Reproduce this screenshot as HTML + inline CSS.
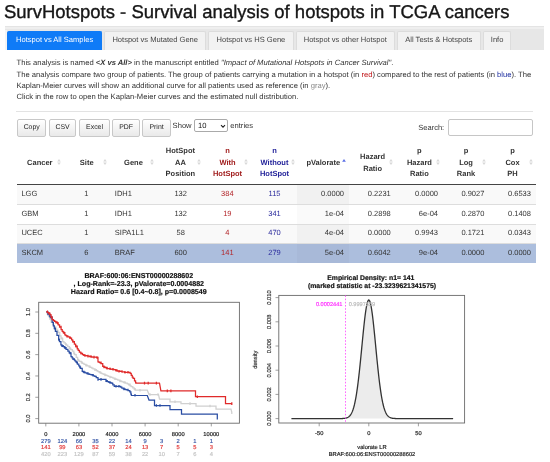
<!DOCTYPE html>
<html><head><meta charset="utf-8"><title>SurvHotspots</title><style>
*{margin:0;padding:0;box-sizing:border-box}
html,body{width:550px;height:462px;overflow:hidden;background:#fff}
body{font-family:"Liberation Sans",sans-serif;color:#333;position:relative;text-rendering:geometricPrecision}
.wrap{position:absolute;left:0;top:0;width:550px;height:462px;will-change:transform}
.t{position:absolute;white-space:nowrap;line-height:1}
.b{font-weight:bold}
.tabbar{position:absolute;left:5px;top:26px;width:539px;height:23.6px;background:linear-gradient(#e4e4e4 0,#e4e4e4 1px,#efefef 1px,#efefef 2.8px,#e7e7e7 2.8px)}
.tab{position:absolute;top:31.2px;height:18.4px;background:#f2f2f2;border:1px solid #dcdcdc;border-bottom:none;border-radius:2px 2px 0 0}
.tab.act{background:#0f7bf7;border-color:#0f7bf7}
.btn{position:absolute;top:119px;height:18px;border:1px solid #c8c8c8;border-radius:2px;background:linear-gradient(#fff,#e9e9e9)}
.row{position:absolute;left:16.5px;width:519.5px;height:19.6px;border-top:1px solid #ddd}
.sc{position:absolute;left:280.5px;width:52px;top:0;bottom:0}
</style></head>
<body><div class="wrap">
<div class="t " style="left:3.90px;top:3.34px;font-size:18.5px;color:#161616;-webkit-text-stroke:0.35px #161616">SurvHotspots - Survival analysis of hotspots in TCGA cancers</div>
<div class="tabbar"></div>
<div style="position:absolute;left:5px;top:29.5px;width:2.2px;height:20.1px;background:#f4f4f4"></div>
<div class="tab act" style="left:7.2px;width:94.8px"></div>
<div class="t " style="left:54.60px;transform:translateX(-50%);top:35.81px;font-size:7.55px;color:#fff;-webkit-text-stroke:0">Hotspot vs All Samples</div>
<div class="tab" style="left:104px;width:102.4px"></div>
<div class="t " style="left:155.20px;transform:translateX(-50%);top:35.81px;font-size:7.55px;color:#444">Hotspot vs Mutated Gene</div>
<div class="tab" style="left:208.2px;width:85.4px"></div>
<div class="t " style="left:250.90px;transform:translateX(-50%);top:35.81px;font-size:7.55px;color:#444">Hotspot vs HS Gene</div>
<div class="tab" style="left:295.5px;width:99.5px"></div>
<div class="t " style="left:345.25px;transform:translateX(-50%);top:35.81px;font-size:7.55px;color:#444">Hotspot vs other Hotspot</div>
<div class="tab" style="left:397px;width:83.5px"></div>
<div class="t " style="left:438.75px;transform:translateX(-50%);top:35.81px;font-size:7.55px;color:#444">All Tests &amp; Hotspots</div>
<div class="tab" style="left:482.7px;width:28.8px"></div>
<div class="t " style="left:497.10px;transform:translateX(-50%);top:35.81px;font-size:7.55px;color:#444">Info</div>
<div class="t " style="left:16.50px;top:59.34px;font-size:7.63px;">This analysis is named <b><i>&lt;X vs All&gt;</i></b> in the manuscript entitled <i>"Impact of Mutational Hotspots in Cancer Survival"</i>.</div>
<div class="t " style="left:16.50px;top:70.84px;font-size:7.63px;">The analysis compare two group of patients. The group of patients carrying a mutation in a hotspot (in <span style="color:#c0171b">red</span>) compared to the rest of patients (in <span style="color:#1d2ea0">blue</span>). The</div>
<div class="t " style="left:16.50px;top:82.04px;font-size:7.63px;">Kaplan-Meier curves will show an additional curve for all patients used as reference (in <span style="color:#888">gray</span>).</div>
<div class="t " style="left:16.50px;top:93.24px;font-size:7.63px;">Click in the row to open the Kaplan-Meier curves and the estimated null distribution.</div>
<div style="position:absolute;left:16.4px;top:110.8px;width:516.3px;height:1px;background:#e3e3e3"></div>
<div class="btn" style="left:17px;width:29.4px"></div>
<div class="t " style="left:31.70px;transform:translateX(-50%);top:124.76px;font-size:6.9px;color:#222">Copy</div>
<div class="btn" style="left:48.7px;width:27.7px"></div>
<div class="t " style="left:62.55px;transform:translateX(-50%);top:124.76px;font-size:6.9px;color:#222">CSV</div>
<div class="btn" style="left:79.1px;width:30.9px"></div>
<div class="t " style="left:94.55px;transform:translateX(-50%);top:124.76px;font-size:6.9px;color:#222">Excel</div>
<div class="btn" style="left:112.2px;width:27.8px"></div>
<div class="t " style="left:126.10px;transform:translateX(-50%);top:124.76px;font-size:6.9px;color:#222">PDF</div>
<div class="btn" style="left:142.4px;width:28.3px"></div>
<div class="t " style="left:156.55px;transform:translateX(-50%);top:124.76px;font-size:6.9px;color:#222">Print</div>
<div class="t " style="left:172.60px;top:121.77px;font-size:7.6px;">Show</div>
<div style="position:absolute;left:194.4px;top:119.3px;width:33.6px;height:13px;border:1px solid #aaa;border-radius:2px;background:#fff"></div>
<div class="t " style="left:198.00px;top:122.37px;font-size:7.6px;color:#111">10</div>
<svg style="position:absolute;left:219.5px;top:124px" width="6" height="5" viewBox="0 0 6 5"><path d="M1 1.2 L3 3.2 L5 1.2" fill="none" stroke="#222" stroke-width="1.1"/></svg>
<div class="t " style="left:230.30px;top:121.77px;font-size:7.6px;">entries</div>
<div class="t " style="left:418.30px;top:123.85px;font-size:7.5px;">Search:</div>
<div style="position:absolute;left:448px;top:119px;width:84.7px;height:17px;border:1px solid #c6c6c6;border-radius:2px;background:#fff"></div>
<div class="t b" style="left:39.80px;transform:translateX(-50%);top:158.85px;font-size:7.5px;">Cancer</div>
<svg style="position:absolute;left:55.699999999999996px;top:158px" width="6" height="8" viewBox="0 0 6 8"><path d="M1.2 3.5 L3 0.9 L4.8 3.5Z M1.2 4.5 L3 7.1 L4.8 4.5Z" fill="#d8d8d8"/></svg>
<div class="t b" style="left:86.70px;transform:translateX(-50%);top:158.85px;font-size:7.5px;">Site</div>
<svg style="position:absolute;left:101.80000000000001px;top:158px" width="6" height="8" viewBox="0 0 6 8"><path d="M1.2 3.5 L3 0.9 L4.8 3.5Z M1.2 4.5 L3 7.1 L4.8 4.5Z" fill="#d8d8d8"/></svg>
<div class="t b" style="left:133.50px;transform:translateX(-50%);top:158.85px;font-size:7.5px;">Gene</div>
<svg style="position:absolute;left:149.0px;top:158px" width="6" height="8" viewBox="0 0 6 8"><path d="M1.2 3.5 L3 0.9 L4.8 3.5Z M1.2 4.5 L3 7.1 L4.8 4.5Z" fill="#d8d8d8"/></svg>
<div class="t b" style="left:180.40px;transform:translateX(-50%);top:147.45px;font-size:7.5px;">HotSpot</div>
<div class="t b" style="left:180.40px;transform:translateX(-50%);top:158.85px;font-size:7.5px;">AA</div>
<div class="t b" style="left:180.40px;transform:translateX(-50%);top:170.25px;font-size:7.5px;">Position</div>
<svg style="position:absolute;left:195.9px;top:158px" width="6" height="8" viewBox="0 0 6 8"><path d="M1.2 3.5 L3 0.9 L4.8 3.5Z M1.2 4.5 L3 7.1 L4.8 4.5Z" fill="#d8d8d8"/></svg>
<div class="t b" style="left:227.50px;transform:translateX(-50%);top:147.45px;font-size:7.5px;color:#a01c1c">n</div>
<div class="t b" style="left:227.50px;transform:translateX(-50%);top:158.85px;font-size:7.5px;color:#a01c1c">With</div>
<div class="t b" style="left:227.50px;transform:translateX(-50%);top:170.25px;font-size:7.5px;color:#a01c1c">HotSpot</div>
<svg style="position:absolute;left:242.70000000000002px;top:158px" width="6" height="8" viewBox="0 0 6 8"><path d="M1.2 3.5 L3 0.9 L4.8 3.5Z M1.2 4.5 L3 7.1 L4.8 4.5Z" fill="#d8d8d8"/></svg>
<div class="t b" style="left:274.50px;transform:translateX(-50%);top:147.45px;font-size:7.5px;color:#23239a">n</div>
<div class="t b" style="left:274.50px;transform:translateX(-50%);top:158.85px;font-size:7.5px;color:#23239a">Without</div>
<div class="t b" style="left:274.50px;transform:translateX(-50%);top:170.25px;font-size:7.5px;color:#23239a">HotSpot</div>
<svg style="position:absolute;left:289.9px;top:158px" width="6" height="8" viewBox="0 0 6 8"><path d="M1.2 3.5 L3 0.9 L4.8 3.5Z M1.2 4.5 L3 7.1 L4.8 4.5Z" fill="#d8d8d8"/></svg>
<div class="t b" style="left:323.30px;transform:translateX(-50%);top:158.85px;font-size:7.5px;">pValorate</div>
<svg style="position:absolute;left:341.4px;top:158px" width="6" height="8" viewBox="0 0 6 8"><path d="M1.1 3.8 L3 1.1 L4.9 3.8Z" fill="#5b6fe6"/></svg>
<div class="t b" style="left:372.60px;transform:translateX(-50%);top:153.15px;font-size:7.5px;">Hazard</div>
<div class="t b" style="left:372.60px;transform:translateX(-50%);top:164.55px;font-size:7.5px;">Ratio</div>
<svg style="position:absolute;left:387.9px;top:158px" width="6" height="8" viewBox="0 0 6 8"><path d="M1.2 3.5 L3 0.9 L4.8 3.5Z M1.2 4.5 L3 7.1 L4.8 4.5Z" fill="#d8d8d8"/></svg>
<div class="t b" style="left:419.40px;transform:translateX(-50%);top:147.45px;font-size:7.5px;">p</div>
<div class="t b" style="left:419.40px;transform:translateX(-50%);top:158.85px;font-size:7.5px;">Hazard</div>
<div class="t b" style="left:419.40px;transform:translateX(-50%);top:170.25px;font-size:7.5px;">Ratio</div>
<svg style="position:absolute;left:434.7px;top:158px" width="6" height="8" viewBox="0 0 6 8"><path d="M1.2 3.5 L3 0.9 L4.8 3.5Z M1.2 4.5 L3 7.1 L4.8 4.5Z" fill="#d8d8d8"/></svg>
<div class="t b" style="left:466.00px;transform:translateX(-50%);top:147.45px;font-size:7.5px;">p</div>
<div class="t b" style="left:466.00px;transform:translateX(-50%);top:158.85px;font-size:7.5px;">Log</div>
<div class="t b" style="left:466.00px;transform:translateX(-50%);top:170.25px;font-size:7.5px;">Rank</div>
<svg style="position:absolute;left:481.4px;top:158px" width="6" height="8" viewBox="0 0 6 8"><path d="M1.2 3.5 L3 0.9 L4.8 3.5Z M1.2 4.5 L3 7.1 L4.8 4.5Z" fill="#d8d8d8"/></svg>
<div class="t b" style="left:512.50px;transform:translateX(-50%);top:147.45px;font-size:7.5px;">p</div>
<div class="t b" style="left:512.50px;transform:translateX(-50%);top:158.85px;font-size:7.5px;">Cox</div>
<div class="t b" style="left:512.50px;transform:translateX(-50%);top:170.25px;font-size:7.5px;">PH</div>
<svg style="position:absolute;left:528.4px;top:158px" width="6" height="8" viewBox="0 0 6 8"><path d="M1.2 3.5 L3 0.9 L4.8 3.5Z M1.2 4.5 L3 7.1 L4.8 4.5Z" fill="#d8d8d8"/></svg>
<div style="position:absolute;left:16.5px;top:183.6px;width:519.5px;height:1.2px;background:#444"></div>
<div class="row" style="top:184.5px;height:19.6px;background:#f9f9f9;border-top:none"><div class="sc" style="background:#f1f1f1"></div></div>
<div class="t " style="left:21.40px;top:190.15px;font-size:7.5px;">LGG</div>
<div class="t " style="left:86.40px;transform:translateX(-50%);top:190.15px;font-size:7.5px;">1</div>
<div class="t " style="left:114.80px;top:190.15px;font-size:7.5px;">IDH1</div>
<div class="t " style="left:180.70px;transform:translateX(-50%);top:190.15px;font-size:7.5px;">132</div>
<div class="t " style="left:227.30px;transform:translateX(-50%);top:190.15px;font-size:7.5px;color:#b3262a">384</div>
<div class="t " style="left:274.50px;transform:translateX(-50%);top:190.15px;font-size:7.5px;color:#2a2a9c">115</div>
<div class="t " style="right:206.00px;top:190.15px;font-size:7.5px;">0.0000</div>
<div class="t " style="left:379.30px;transform:translateX(-50%);top:190.15px;font-size:7.5px;">0.2231</div>
<div class="t " style="right:112.00px;top:190.15px;font-size:7.5px;">0.0000</div>
<div class="t " style="left:472.90px;transform:translateX(-50%);top:190.15px;font-size:7.5px;">0.9027</div>
<div class="t " style="left:519.50px;transform:translateX(-50%);top:190.15px;font-size:7.5px;">0.6533</div>
<div class="row" style="top:204.1px;height:19.5px;background:#fff;border-top:1px solid #ddd"><div class="sc" style="background:#fafafa"></div></div>
<div class="t " style="left:21.40px;top:209.65px;font-size:7.5px;">GBM</div>
<div class="t " style="left:86.40px;transform:translateX(-50%);top:209.65px;font-size:7.5px;">1</div>
<div class="t " style="left:114.80px;top:209.65px;font-size:7.5px;">IDH1</div>
<div class="t " style="left:180.70px;transform:translateX(-50%);top:209.65px;font-size:7.5px;">132</div>
<div class="t " style="left:227.30px;transform:translateX(-50%);top:209.65px;font-size:7.5px;color:#b3262a">19</div>
<div class="t " style="left:274.50px;transform:translateX(-50%);top:209.65px;font-size:7.5px;color:#2a2a9c">341</div>
<div class="t " style="right:206.00px;top:209.65px;font-size:7.5px;">1e-04</div>
<div class="t " style="left:379.30px;transform:translateX(-50%);top:209.65px;font-size:7.5px;">0.2898</div>
<div class="t " style="right:112.00px;top:209.65px;font-size:7.5px;">6e-04</div>
<div class="t " style="left:472.90px;transform:translateX(-50%);top:209.65px;font-size:7.5px;">0.2870</div>
<div class="t " style="left:519.50px;transform:translateX(-50%);top:209.65px;font-size:7.5px;">0.1408</div>
<div class="row" style="top:223.6px;height:19.6px;background:#f9f9f9;border-top:1px solid #ddd"><div class="sc" style="background:#f1f1f1"></div></div>
<div class="t " style="left:21.40px;top:229.25px;font-size:7.5px;">UCEC</div>
<div class="t " style="left:86.40px;transform:translateX(-50%);top:229.25px;font-size:7.5px;">1</div>
<div class="t " style="left:114.80px;top:229.25px;font-size:7.5px;">SIPA1L1</div>
<div class="t " style="left:180.70px;transform:translateX(-50%);top:229.25px;font-size:7.5px;">58</div>
<div class="t " style="left:227.30px;transform:translateX(-50%);top:229.25px;font-size:7.5px;color:#b3262a">4</div>
<div class="t " style="left:274.50px;transform:translateX(-50%);top:229.25px;font-size:7.5px;color:#2a2a9c">470</div>
<div class="t " style="right:206.00px;top:229.25px;font-size:7.5px;">4e-04</div>
<div class="t " style="left:379.30px;transform:translateX(-50%);top:229.25px;font-size:7.5px;">0.0000</div>
<div class="t " style="right:112.00px;top:229.25px;font-size:7.5px;">0.9943</div>
<div class="t " style="left:472.90px;transform:translateX(-50%);top:229.25px;font-size:7.5px;">0.1721</div>
<div class="t " style="left:519.50px;transform:translateX(-50%);top:229.25px;font-size:7.5px;">0.0343</div>
<div class="row" style="top:243.2px;height:19.4px;background:#acbedd;border-top:1px solid #ddd"><div class="sc" style="background:#a8b9d8"></div></div>
<div class="t " style="left:21.40px;top:248.85px;font-size:7.5px;">SKCM</div>
<div class="t " style="left:86.40px;transform:translateX(-50%);top:248.85px;font-size:7.5px;">6</div>
<div class="t " style="left:114.80px;top:248.85px;font-size:7.5px;">BRAF</div>
<div class="t " style="left:180.70px;transform:translateX(-50%);top:248.85px;font-size:7.5px;">600</div>
<div class="t " style="left:227.30px;transform:translateX(-50%);top:248.85px;font-size:7.5px;color:#b3262a">141</div>
<div class="t " style="left:274.50px;transform:translateX(-50%);top:248.85px;font-size:7.5px;color:#2a2a9c">279</div>
<div class="t " style="right:206.00px;top:248.85px;font-size:7.5px;">5e-04</div>
<div class="t " style="left:379.30px;transform:translateX(-50%);top:248.85px;font-size:7.5px;">0.6042</div>
<div class="t " style="right:112.00px;top:248.85px;font-size:7.5px;">9e-04</div>
<div class="t " style="left:472.90px;transform:translateX(-50%);top:248.85px;font-size:7.5px;">0.0000</div>
<div class="t " style="left:519.50px;transform:translateX(-50%);top:248.85px;font-size:7.5px;">0.0000</div>

<svg style="position:absolute;left:0;top:0" width="550" height="462" viewBox="0 0 550 462" font-family="Liberation Sans, sans-serif">
<text x="138.8" y="278.3" font-size="7.1" font-weight="bold" text-anchor="middle" fill="#111" stroke="#111" stroke-width="0.18">BRAF:600:06:ENST00000288602</text>
<text x="138.8" y="286.1" font-size="7.1" font-weight="bold" text-anchor="middle" fill="#111" stroke="#111" stroke-width="0.18">, Log-Rank=-23.3, pValorate=0.0004882</text>
<text x="138.8" y="294.0" font-size="7.1" font-weight="bold" text-anchor="middle" fill="#111" stroke="#111" stroke-width="0.18">Hazard Ratio= 0.6 [0.4~0.8], p=0.0008549</text>
<rect x="38.7" y="302.3" width="200.7" height="120.9" fill="none" stroke="#6a6a6a" stroke-width="0.9"/>
<line x1="35.3" y1="418.60" x2="38.7" y2="418.60" stroke="#777" stroke-width="0.7"/>
<text transform="translate(29.8 418.60) rotate(-90)" font-size="5.75" text-anchor="middle" fill="#333" stroke="#333" stroke-width="0.18">0.0</text>
<line x1="35.3" y1="397.28" x2="38.7" y2="397.28" stroke="#777" stroke-width="0.7"/>
<text transform="translate(29.8 397.28) rotate(-90)" font-size="5.75" text-anchor="middle" fill="#333" stroke="#333" stroke-width="0.18">0.2</text>
<line x1="35.3" y1="375.96" x2="38.7" y2="375.96" stroke="#777" stroke-width="0.7"/>
<text transform="translate(29.8 375.96) rotate(-90)" font-size="5.75" text-anchor="middle" fill="#333" stroke="#333" stroke-width="0.18">0.4</text>
<line x1="35.3" y1="354.64" x2="38.7" y2="354.64" stroke="#777" stroke-width="0.7"/>
<text transform="translate(29.8 354.64) rotate(-90)" font-size="5.75" text-anchor="middle" fill="#333" stroke="#333" stroke-width="0.18">0.6</text>
<line x1="35.3" y1="333.32" x2="38.7" y2="333.32" stroke="#777" stroke-width="0.7"/>
<text transform="translate(29.8 333.32) rotate(-90)" font-size="5.75" text-anchor="middle" fill="#333" stroke="#333" stroke-width="0.18">0.8</text>
<line x1="35.3" y1="312.00" x2="38.7" y2="312.00" stroke="#777" stroke-width="0.7"/>
<text transform="translate(29.8 312.00) rotate(-90)" font-size="5.75" text-anchor="middle" fill="#333" stroke="#333" stroke-width="0.18">1.0</text>
<line x1="45.80" y1="423.2" x2="45.80" y2="426.4" stroke="#777" stroke-width="0.7"/>
<text x="45.80" y="435.6" font-size="5.75" text-anchor="middle" fill="#222" stroke="#222" stroke-width="0.18">0</text>
<line x1="78.90" y1="423.2" x2="78.90" y2="426.4" stroke="#777" stroke-width="0.7"/>
<text x="78.90" y="435.6" font-size="5.75" text-anchor="middle" fill="#222" stroke="#222" stroke-width="0.18">2000</text>
<line x1="112.00" y1="423.2" x2="112.00" y2="426.4" stroke="#777" stroke-width="0.7"/>
<text x="112.00" y="435.6" font-size="5.75" text-anchor="middle" fill="#222" stroke="#222" stroke-width="0.18">4000</text>
<line x1="145.10" y1="423.2" x2="145.10" y2="426.4" stroke="#777" stroke-width="0.7"/>
<text x="145.10" y="435.6" font-size="5.75" text-anchor="middle" fill="#222" stroke="#222" stroke-width="0.18">6000</text>
<line x1="178.20" y1="423.2" x2="178.20" y2="426.4" stroke="#777" stroke-width="0.7"/>
<text x="178.20" y="435.6" font-size="5.75" text-anchor="middle" fill="#222" stroke="#222" stroke-width="0.18">8000</text>
<line x1="211.30" y1="423.2" x2="211.30" y2="426.4" stroke="#777" stroke-width="0.7"/>
<text x="211.30" y="435.6" font-size="5.75" text-anchor="middle" fill="#222" stroke="#222" stroke-width="0.18">10000</text>
<text x="45.80" y="442.9" font-size="5.75" text-anchor="middle" fill="#3a5aa8" stroke="#3a5aa8" stroke-width="0.18">279</text>
<text x="45.80" y="449.4" font-size="5.75" text-anchor="middle" fill="#e23a3a" stroke="#e23a3a" stroke-width="0.18">141</text>
<text x="45.80" y="456.2" font-size="5.75" text-anchor="middle" fill="#c4c4c4" stroke="#c4c4c4" stroke-width="0.18">420</text>
<text x="62.35" y="442.9" font-size="5.75" text-anchor="middle" fill="#3a5aa8" stroke="#3a5aa8" stroke-width="0.18">124</text>
<text x="62.35" y="449.4" font-size="5.75" text-anchor="middle" fill="#e23a3a" stroke="#e23a3a" stroke-width="0.18">99</text>
<text x="62.35" y="456.2" font-size="5.75" text-anchor="middle" fill="#c4c4c4" stroke="#c4c4c4" stroke-width="0.18">223</text>
<text x="78.90" y="442.9" font-size="5.75" text-anchor="middle" fill="#3a5aa8" stroke="#3a5aa8" stroke-width="0.18">66</text>
<text x="78.90" y="449.4" font-size="5.75" text-anchor="middle" fill="#e23a3a" stroke="#e23a3a" stroke-width="0.18">63</text>
<text x="78.90" y="456.2" font-size="5.75" text-anchor="middle" fill="#c4c4c4" stroke="#c4c4c4" stroke-width="0.18">129</text>
<text x="95.45" y="442.9" font-size="5.75" text-anchor="middle" fill="#3a5aa8" stroke="#3a5aa8" stroke-width="0.18">35</text>
<text x="95.45" y="449.4" font-size="5.75" text-anchor="middle" fill="#e23a3a" stroke="#e23a3a" stroke-width="0.18">52</text>
<text x="95.45" y="456.2" font-size="5.75" text-anchor="middle" fill="#c4c4c4" stroke="#c4c4c4" stroke-width="0.18">87</text>
<text x="112.00" y="442.9" font-size="5.75" text-anchor="middle" fill="#3a5aa8" stroke="#3a5aa8" stroke-width="0.18">22</text>
<text x="112.00" y="449.4" font-size="5.75" text-anchor="middle" fill="#e23a3a" stroke="#e23a3a" stroke-width="0.18">37</text>
<text x="112.00" y="456.2" font-size="5.75" text-anchor="middle" fill="#c4c4c4" stroke="#c4c4c4" stroke-width="0.18">59</text>
<text x="128.55" y="442.9" font-size="5.75" text-anchor="middle" fill="#3a5aa8" stroke="#3a5aa8" stroke-width="0.18">14</text>
<text x="128.55" y="449.4" font-size="5.75" text-anchor="middle" fill="#e23a3a" stroke="#e23a3a" stroke-width="0.18">24</text>
<text x="128.55" y="456.2" font-size="5.75" text-anchor="middle" fill="#c4c4c4" stroke="#c4c4c4" stroke-width="0.18">38</text>
<text x="145.10" y="442.9" font-size="5.75" text-anchor="middle" fill="#3a5aa8" stroke="#3a5aa8" stroke-width="0.18">9</text>
<text x="145.10" y="449.4" font-size="5.75" text-anchor="middle" fill="#e23a3a" stroke="#e23a3a" stroke-width="0.18">13</text>
<text x="145.10" y="456.2" font-size="5.75" text-anchor="middle" fill="#c4c4c4" stroke="#c4c4c4" stroke-width="0.18">22</text>
<text x="161.65" y="442.9" font-size="5.75" text-anchor="middle" fill="#3a5aa8" stroke="#3a5aa8" stroke-width="0.18">3</text>
<text x="161.65" y="449.4" font-size="5.75" text-anchor="middle" fill="#e23a3a" stroke="#e23a3a" stroke-width="0.18">7</text>
<text x="161.65" y="456.2" font-size="5.75" text-anchor="middle" fill="#c4c4c4" stroke="#c4c4c4" stroke-width="0.18">10</text>
<text x="178.20" y="442.9" font-size="5.75" text-anchor="middle" fill="#3a5aa8" stroke="#3a5aa8" stroke-width="0.18">2</text>
<text x="178.20" y="449.4" font-size="5.75" text-anchor="middle" fill="#e23a3a" stroke="#e23a3a" stroke-width="0.18">5</text>
<text x="178.20" y="456.2" font-size="5.75" text-anchor="middle" fill="#c4c4c4" stroke="#c4c4c4" stroke-width="0.18">7</text>
<text x="194.75" y="442.9" font-size="5.75" text-anchor="middle" fill="#3a5aa8" stroke="#3a5aa8" stroke-width="0.18">1</text>
<text x="194.75" y="449.4" font-size="5.75" text-anchor="middle" fill="#e23a3a" stroke="#e23a3a" stroke-width="0.18">5</text>
<text x="194.75" y="456.2" font-size="5.75" text-anchor="middle" fill="#c4c4c4" stroke="#c4c4c4" stroke-width="0.18">6</text>
<text x="211.30" y="442.9" font-size="5.75" text-anchor="middle" fill="#3a5aa8" stroke="#3a5aa8" stroke-width="0.18">1</text>
<text x="211.30" y="449.4" font-size="5.75" text-anchor="middle" fill="#e23a3a" stroke="#e23a3a" stroke-width="0.18">3</text>
<text x="211.30" y="456.2" font-size="5.75" text-anchor="middle" fill="#c4c4c4" stroke="#c4c4c4" stroke-width="0.18">4</text>
<path d="M46.20 311.80 L47.23 311.80 L47.23 313.92 L48.57 313.92 L48.57 316.71 L49.74 316.71 L49.74 319.12 L51.15 319.12 L51.15 322.03 L52.58 322.03 L52.58 324.64 L53.43 324.64 L53.43 325.78 L54.22 325.78 L54.22 326.85 L55.87 326.85 L55.87 329.07 L56.92 329.07 L56.92 330.49 L57.94 330.49 L57.94 332.29 L59.76 332.29 L59.76 335.92 L61.03 335.92 L61.03 338.46 L62.68 338.46 L62.68 341.58 L63.95 341.58 L63.95 342.85 L65.40 342.85 L65.40 344.30 L66.33 344.30 L66.33 345.23 L67.77 345.23 L67.77 346.67 L69.46 346.67 L69.46 348.36 L70.78 348.36 L70.78 349.68 L72.33 349.68 L72.33 351.23 L73.81 351.23 L73.81 353.32 L74.66 353.32 L74.66 354.74 L76.23 354.74 L76.23 357.36 L77.62 357.36 L77.62 359.70 L78.71 359.70 L78.71 360.91 L79.53 360.91 L79.53 361.46 L81.21 361.46 L81.21 362.59 L82.48 362.59 L82.48 363.45 L84.01 363.45 L84.01 364.34 L85.70 364.34 L85.70 365.17 L87.22 365.17 L87.22 365.91 L88.96 365.91 L88.96 366.75 L90.15 366.75 L90.15 367.33 L91.76 367.33 L91.76 368.13 L93.01 368.13 L93.01 368.75 L94.76 368.75 L94.76 369.63 L96.45 369.63 L96.45 370.59 L97.33 370.59 L97.33 371.13 L98.26 371.13 L98.26 371.70 L99.26 371.70 L99.26 372.32 L101.05 372.32 L101.05 373.26 L102.28 373.26 L102.28 373.78 L103.71 373.78 L103.71 374.39 L104.80 374.39 L104.80 374.85 L106.11 374.85 L106.11 375.40 L107.29 375.40 L107.29 375.90 L108.44 375.90 L108.44 376.38 L109.83 376.38 L109.83 376.93 L111.21 376.93 L111.21 377.49 L112.93 377.49 L112.93 378.17 L114.42 378.17 L114.42 378.77 L116.17 378.77 L116.17 379.47 L117.84 379.47 L117.84 380.14 L119.65 380.14 L119.65 380.86 L121.13 380.86 L121.13 381.45 L122.08 381.45 L122.08 381.83 L123.75 381.83 L123.75 382.50 L125.54 382.50 L125.54 383.21 L127.26 383.21 L127.26 383.90 L128.63 383.90 L128.63 384.85 L130.15 384.85 L130.15 385.99 L131.15 385.99 L131.15 386.74 L132.80 386.74 L132.80 387.99 L134.17 387.99 L134.17 389.20 L135.25 389.20 L135.25 390.16 L135.30 390.16 L135.30 390.20 L147.30 390.20 L149.00 394.50 L158.50 394.50 L159.50 399.00 L170.00 399.00 L170.00 401.80 L181.00 401.80 L181.00 403.60 L196.00 403.60 L196.00 406.00 L216.00 406.00 L216.00 409.00 L231.00 409.00 L231.80 412.70 M48.00 312.62 L48.00 315.22 M51.00 317.82 L51.00 320.42 M54.00 324.48 L54.00 327.08 M58.00 330.99 L58.00 333.59 M62.00 337.16 L62.00 339.76 M66.00 343.00 L66.00 345.60 M70.00 347.06 L70.00 349.66 M74.00 352.02 L74.00 354.62 M78.00 358.40 L78.00 361.00 M82.00 361.29 L82.00 363.89 M86.00 363.87 L86.00 366.47 M90.00 365.45 L90.00 368.05 M95.00 368.33 L95.00 370.93 M100.00 371.02 L100.00 373.62 M105.00 373.55 L105.00 376.15 M110.00 375.63 L110.00 378.23 M115.00 377.47 L115.00 380.07 M120.00 379.56 L120.00 382.16 M125.00 381.20 L125.00 383.80 M130.00 383.55 L130.00 386.15 M135.00 387.90 L135.00 390.50 M140.00 388.90 L140.00 391.50 M150.00 393.20 L150.00 395.80 M158.00 393.20 L158.00 395.80 M175.00 400.50 L175.00 403.10 M190.00 402.30 L190.00 404.90 M210.00 404.70 L210.00 407.30 M231.80 411.40 L231.80 414.00" fill="none" stroke="#d0d0d0" stroke-width="1.25" stroke-linejoin="miter"/>
<path d="M46.20 311.80 L47.87 311.80 L47.87 313.90 L49.68 313.90 L49.68 316.19 L50.55 316.19 L50.55 317.54 L52.16 317.54 L52.16 322.34 L53.37 322.34 L53.37 325.92 L54.31 325.92 L54.31 328.54 L55.39 328.54 L55.39 331.32 L56.97 331.32 L56.97 335.36 L58.66 335.36 L58.66 339.58 L59.48 339.58 L59.48 341.63 L60.90 341.63 L60.90 344.98 L61.73 344.98 L61.73 345.59 L63.26 345.59 L63.26 346.73 L64.38 346.73 L64.38 347.58 L66.08 347.58 L66.08 349.28 L67.88 349.28 L67.88 351.08 L69.18 351.08 L69.18 352.97 L71.00 352.97 L71.00 356.60 L72.10 356.60 L72.10 357.90 L72.96 357.90 L72.96 358.76 L74.37 358.76 L74.37 360.17 L75.18 360.17 L75.18 361.14 L76.17 361.14 L76.17 362.44 L77.37 362.44 L77.37 364.04 L78.78 364.04 L78.78 365.92 L79.73 365.92 L79.73 367.17 L80.55 367.17 L80.55 368.48 L82.23 368.48 L82.23 371.26 L83.34 371.26 L83.34 372.05 L85.12 372.05 L85.12 372.80 L86.83 372.80 L86.83 373.51 L88.00 373.51 L88.00 373.89 L89.26 373.89 L89.26 374.30 L90.58 374.30 L90.58 374.74 L92.03 374.74 L92.03 375.21 L93.43 375.21 L93.43 375.77 L94.79 375.77 L94.79 376.32 L96.22 376.32 L96.22 377.56 L97.98 377.56 L97.98 379.40 L99.28 379.40 L100.51 379.40 L102.04 379.40 L103.07 379.40 L104.16 379.40 L104.16 379.44 L105.96 379.44 L105.96 380.64 L107.28 380.64 L107.28 381.52 L108.63 381.52 L108.63 382.21 L109.42 382.21 L109.42 382.47 L110.63 382.47 L110.63 382.88 L112.02 382.88 L112.02 383.49 L112.82 383.49 L112.82 384.75 L114.24 384.75 L114.24 386.30 L115.68 386.30 L116.52 386.30 L117.95 386.30 L119.22 386.30 L120.70 386.30 L120.70 387.15 L121.85 387.15 L121.85 388.12 L123.36 388.12 L123.36 388.85 L124.91 388.85 L124.91 389.37 L125.72 389.37 L125.72 389.64 L126.56 389.64 L126.56 389.95 L128.04 389.95 L128.04 390.55 L129.82 390.55 L129.82 391.99 L130.86 391.99 L130.86 394.18 L131.40 394.18 L131.40 395.30 L147.30 395.50 L149.00 400.00 L154.50 400.00 L154.50 405.50 L170.00 405.50 L170.00 409.60 L181.50 409.60 L181.50 414.20 L217.30 414.20 L217.30 418.20 M48.00 312.60 L48.00 315.20 M50.00 314.89 L50.00 317.49 M52.00 316.24 L52.00 318.84 M55.00 327.24 L55.00 329.84 M59.00 338.28 L59.00 340.88 M62.00 344.29 L62.00 346.89 M65.00 346.28 L65.00 348.88 M70.00 351.67 L70.00 354.27 M73.00 357.46 L73.00 360.06 M77.00 361.14 L77.00 363.74 M80.00 365.87 L80.00 368.47 M84.00 370.75 L84.00 373.35 M88.00 372.21 L88.00 374.81 M93.00 373.91 L93.00 376.51 M98.00 378.10 L98.00 380.70 M101.00 378.10 L101.00 380.70 M106.00 379.34 L106.00 381.94 M110.00 381.17 L110.00 383.77 M116.00 385.00 L116.00 387.60 M119.00 385.00 L119.00 387.60 M124.00 387.55 L124.00 390.15 M128.00 388.65 L128.00 391.25 M135.00 394.00 L135.00 396.60 M156.40 404.20 L156.40 406.80 M160.00 404.20 L160.00 406.80 M217.30 416.90 L217.30 419.50" fill="none" stroke="#2a4da3" stroke-width="1.25" stroke-linejoin="miter"/>
<path d="M46.20 311.80 L47.60 311.80 L47.60 312.60 L48.71 312.60 L48.71 313.24 L49.87 313.24 L49.87 314.55 L50.97 314.55 L50.97 317.10 L52.14 317.10 L52.14 319.73 L53.54 319.73 L53.54 320.69 L54.63 320.69 L54.63 321.45 L55.80 321.45 L55.80 322.22 L57.38 322.22 L57.38 323.35 L58.19 323.35 L58.19 324.75 L59.56 324.75 L59.56 327.15 L61.11 327.15 L61.11 329.73 L62.21 329.73 L62.21 331.27 L63.22 331.27 L63.22 332.68 L64.84 332.68 L64.84 334.94 L65.87 334.94 L65.87 335.70 L66.84 335.70 L66.84 336.20 L68.07 336.20 L68.07 336.84 L69.58 336.84 L69.58 337.63 L70.47 337.63 L70.47 338.24 L71.58 338.24 L71.58 339.87 L72.71 339.87 L72.71 341.51 L74.36 341.51 L74.36 344.03 L75.59 344.03 L75.59 346.10 L77.26 346.10 L77.26 348.89 L78.22 348.89 L78.22 350.49 L79.35 350.49 L79.35 352.08 L80.80 352.08 L80.80 353.27 L82.50 353.27 L82.50 354.65 L83.75 354.65 L83.75 355.38 L84.77 355.38 L84.77 355.57 L85.67 355.57 L85.67 355.73 L87.00 355.73 L87.00 355.97 L87.98 355.97 L87.98 356.16 L89.60 356.16 L89.60 356.50 L91.25 356.50 L91.25 356.84 L92.22 356.84 L92.22 357.02 L93.29 357.02 L93.29 357.09 L94.91 357.09 L94.91 357.20 L96.36 357.20 L96.36 357.47 L97.98 357.47 L97.98 361.94 L99.12 361.94 L99.12 362.48 L100.03 362.48 L100.03 362.87 L101.12 362.87 L101.12 363.71 L102.72 363.71 L102.72 366.28 L103.78 366.28 L103.78 366.90 L104.92 366.90 L104.92 367.49 L106.14 367.49 L106.14 368.11 L107.35 368.11 L107.35 368.51 L108.56 368.51 L108.56 368.71 L110.30 368.71 L110.30 369.00 L111.24 369.00 L111.24 369.16 L112.03 369.16 L112.03 369.29 L113.79 369.29 L113.79 369.58 L115.48 369.58 L115.48 370.19 L117.29 370.19 L117.29 371.03 L118.52 371.03 L118.52 371.22 L120.29 371.22 L120.29 371.49 L122.03 371.49 L122.03 371.79 L123.04 371.79 L123.04 371.97 L124.60 371.97 L124.60 372.25 L126.25 372.25 L126.25 372.30 L127.72 372.30 L129.04 372.30 L130.12 372.30 L130.12 373.45 L131.25 373.45 L131.25 375.26 L132.27 375.26 L132.27 377.01 L133.12 377.01 L133.12 378.48 L134.51 378.48 L134.51 380.84 L135.59 380.84 L135.59 382.60 L135.90 382.60 L135.90 383.10 L159.50 383.10 L160.90 390.90 L195.50 390.90 L195.50 396.70 L225.50 396.70 L225.50 403.60 L231.80 403.60 M47.50 310.50 L47.50 313.10 M49.00 311.94 L49.00 314.54 M51.50 315.80 L51.50 318.40 M56.00 320.92 L56.00 323.52 M58.00 322.05 L58.00 324.65 M61.00 325.85 L61.00 328.45 M64.00 331.38 L64.00 333.98 M67.00 334.90 L67.00 337.50 M70.00 336.33 L70.00 338.93 M73.00 340.21 L73.00 342.81 M76.00 344.80 L76.00 347.40 M81.00 351.97 L81.00 354.57 M85.00 354.27 L85.00 356.87 M88.00 354.86 L88.00 357.46 M91.00 355.20 L91.00 357.80 M94.00 355.79 L94.00 358.39 M97.00 356.17 L97.00 358.77 M101.00 361.57 L101.00 364.17 M104.00 365.60 L104.00 368.20 M107.00 366.81 L107.00 369.41 M110.00 367.41 L110.00 370.01 M113.00 367.99 L113.00 370.59 M116.00 368.89 L116.00 371.49 M119.00 369.92 L119.00 372.52 M122.00 370.19 L122.00 372.79 M125.00 370.95 L125.00 373.55 M128.00 371.00 L128.00 373.60 M144.50 381.80 L144.50 384.40 M148.20 381.80 L148.20 384.40 M156.40 381.80 L156.40 384.40 M167.30 389.60 L167.30 392.20 M170.90 389.60 L170.90 392.20 M197.30 395.40 L197.30 398.00 M231.80 402.30 L231.80 404.90" fill="none" stroke="#e02a2a" stroke-width="1.25" stroke-linejoin="miter"/>
<text x="370.8" y="280.0" font-size="6.86" font-weight="bold" text-anchor="middle" fill="#111" stroke="#111" stroke-width="0.18">Empirical Density: n1= 141</text>
<text x="372.0" y="287.6" font-size="6.86" font-weight="bold" text-anchor="middle" fill="#111" stroke="#111" stroke-width="0.18">(marked statistic at -23.3239621341575)</text>
<path d="M345.69 418.60 L345.69 418.13 L345.93 418.08 L346.18 418.01 L346.43 417.94 L346.68 417.86 L346.93 417.77 L347.17 417.67 L347.42 417.56 L347.67 417.44 L347.92 417.31 L348.17 417.17 L348.41 417.01 L348.66 416.83 L348.91 416.64 L349.16 416.43 L349.41 416.20 L349.65 415.95 L349.90 415.68 L350.15 415.38 L350.40 415.06 L350.65 414.71 L350.89 414.33 L351.14 413.92 L351.39 413.48 L351.64 413.01 L351.89 412.49 L352.13 411.94 L352.38 411.35 L352.63 410.72 L352.88 410.04 L353.13 409.32 L353.37 408.54 L353.62 407.72 L353.87 406.84 L354.12 405.91 L354.37 404.93 L354.61 403.88 L354.86 402.78 L355.11 401.62 L355.36 400.39 L355.61 399.10 L355.85 397.74 L356.10 396.32 L356.35 394.83 L356.60 393.27 L356.85 391.65 L357.09 389.96 L357.34 388.20 L357.59 386.38 L357.84 384.49 L358.09 382.53 L358.33 380.51 L358.58 378.43 L358.83 376.29 L359.08 374.10 L359.33 371.84 L359.57 369.54 L359.82 367.19 L360.07 364.79 L360.32 362.36 L360.57 359.89 L360.81 357.39 L361.06 354.86 L361.31 352.32 L361.56 349.76 L361.81 347.19 L362.05 344.62 L362.30 342.06 L362.55 339.51 L362.80 336.98 L363.05 334.47 L363.29 332.00 L363.54 329.57 L363.79 327.19 L364.04 324.86 L364.29 322.60 L364.53 320.41 L364.78 318.30 L365.03 316.27 L365.28 314.33 L365.53 312.49 L365.77 310.76 L366.02 309.14 L366.27 307.63 L366.52 306.25 L366.77 305.00 L367.01 303.88 L367.26 302.89 L367.51 302.05 L367.76 301.35 L368.01 300.79 L368.25 300.39 L368.50 300.13 L368.75 300.02 L369.00 300.07 L369.25 300.26 L369.49 300.61 L369.74 301.11 L369.99 301.75 L370.24 302.54 L370.49 303.47 L370.73 304.53 L370.98 305.73 L371.23 307.07 L371.48 308.52 L371.73 310.10 L371.97 311.79 L372.22 313.58 L372.47 315.48 L372.72 317.47 L372.97 319.55 L373.21 321.72 L373.46 323.95 L373.71 326.25 L373.96 328.61 L374.21 331.02 L374.45 333.48 L374.70 335.97 L374.95 338.49 L375.20 341.04 L375.45 343.60 L375.69 346.16 L375.94 348.73 L376.19 351.29 L376.44 353.85 L376.69 356.38 L376.93 358.89 L377.18 361.37 L377.43 363.82 L377.68 366.24 L377.93 368.61 L378.17 370.93 L378.42 373.20 L378.67 375.42 L378.92 377.58 L379.17 379.69 L379.41 381.73 L379.66 383.71 L379.91 385.63 L380.16 387.48 L380.41 389.27 L380.65 390.98 L380.90 392.63 L381.15 394.22 L381.40 395.73 L381.65 397.18 L381.89 398.56 L382.14 399.88 L382.39 401.13 L382.64 402.32 L382.89 403.45 L383.13 404.52 L383.38 405.53 L383.63 406.48 L383.88 407.38 L384.13 408.22 L384.37 409.01 L384.62 409.76 L384.87 410.45 L385.12 411.10 L385.37 411.71 L385.61 412.28 L385.86 412.81 L386.11 413.30 L386.36 413.75 L386.61 414.17 L386.85 414.56 L387.10 414.92 L387.35 415.26 L387.60 415.56 L387.85 415.84 L388.09 416.10 L388.34 416.34 L388.59 416.56 L388.84 416.76 L389.09 416.94 L389.33 417.10 L389.58 417.25 L389.83 417.39 L390.08 417.52 L390.33 417.63 L390.57 417.73 L390.82 417.82 L391.07 417.91 L391.32 417.98 L391.57 418.05 L391.81 418.11 L392.06 418.17 L392.31 418.22 L392.56 418.26 L392.81 418.30 L393.05 418.33 L393.30 418.37 L393.55 418.39 L393.80 418.42 L394.05 418.44 L394.29 418.46 L394.54 418.48 L394.79 418.49 L395.04 418.51 L395.29 418.52 L395.53 418.53 L395.78 418.54 L396.03 418.55 L396.28 418.55 L396.53 418.56 L396.77 418.56 L397.02 418.57 L397.27 418.57 L397.52 418.58 L397.77 418.58 L398.01 418.58 L398.26 418.59 L398.51 418.59 L398.76 418.59 L399.01 418.59 L399.25 418.59 L399.50 418.59 L399.75 418.59 L400.00 418.60 L400.25 418.60 L400.49 418.60 L400.74 418.60 L400.99 418.60 L401.24 418.60 L401.49 418.60 L401.73 418.60 L401.98 418.60 L402.23 418.60 L402.48 418.60 L402.73 418.60 L402.97 418.60 L403.22 418.60 L403.47 418.60 L403.72 418.60 L403.97 418.60 L404.21 418.60 L404.46 418.60 L404.71 418.60 L404.96 418.60 L405.21 418.60 L405.45 418.60 L405.70 418.60 L405.95 418.60 L406.20 418.60 L406.45 418.60 L406.69 418.60 L406.94 418.60 L407.19 418.60 L407.44 418.60 L407.69 418.60 L407.93 418.60 L408.18 418.60 L408.43 418.60 L408.68 418.60 L408.93 418.60 L409.17 418.60 L409.42 418.60 L409.67 418.60 L409.92 418.60 L410.17 418.60 L410.41 418.60 L410.66 418.60 L410.91 418.60 L411.16 418.60 L411.41 418.60 L411.65 418.60 L411.90 418.60 L412.15 418.60 L412.40 418.60 L412.65 418.60 L412.89 418.60 L413.14 418.60 L413.39 418.60 L413.64 418.60 L413.89 418.60 L414.13 418.60 L414.38 418.60 L414.63 418.60 L414.88 418.60 L415.13 418.60 L415.37 418.60 L415.62 418.60 L415.87 418.60 L416.12 418.60 L416.37 418.60 L416.61 418.60 L416.86 418.60 L417.11 418.60 L417.36 418.60 L417.61 418.60 L417.85 418.60 L418.10 418.60 L418.35 418.60 L418.60 418.60 L418.85 418.60 L419.09 418.60 L419.34 418.60 L419.59 418.60 L419.84 418.60 L420.09 418.60 L420.33 418.60 L420.58 418.60 L420.83 418.60 L421.08 418.60 L421.33 418.60 L421.57 418.60 L421.82 418.60 L422.07 418.60 L422.32 418.60 L422.57 418.60 L422.81 418.60 L423.06 418.60 L423.31 418.60 L423.56 418.60 L423.81 418.60 L424.05 418.60 L424.30 418.60 L424.55 418.60 L424.80 418.60 L425.05 418.60 L425.29 418.60 L425.54 418.60 L425.79 418.60 L426.04 418.60 L426.29 418.60 L426.53 418.60 L426.78 418.60 L427.03 418.60 L427.28 418.60 L427.53 418.60 L427.77 418.60 L428.02 418.60 L428.27 418.60 L428.52 418.60 L428.77 418.60 L429.01 418.60 L429.26 418.60 L429.51 418.60 L429.76 418.60 L430.01 418.60 L430.25 418.60 L430.50 418.60 L430.75 418.60 L431.00 418.60 L431.25 418.60 L431.49 418.60 L431.74 418.60 L431.99 418.60 L432.24 418.60 L432.49 418.60 L432.73 418.60 L432.98 418.60 L433.23 418.60 L433.48 418.60 L433.73 418.60 L433.97 418.60 L434.22 418.60 L434.47 418.60 L434.72 418.60 L434.97 418.60 L435.21 418.60 L435.46 418.60 L435.71 418.60 L435.96 418.60 L436.21 418.60 L436.45 418.60 L436.70 418.60 L436.95 418.60 L437.20 418.60 L437.45 418.60 L437.69 418.60 L437.94 418.60 L438.19 418.60 L438.44 418.60 L438.69 418.60 L438.93 418.60 L439.18 418.60 L439.43 418.60 L439.68 418.60 L439.93 418.60 L440.17 418.60 L440.42 418.60 L440.67 418.60 L440.92 418.60 L441.17 418.60 L441.41 418.60 L441.66 418.60 L441.91 418.60 L442.16 418.60 L442.41 418.60 L442.65 418.60 L442.90 418.60 L443.15 418.60 L443.40 418.60 L443.65 418.60 L443.89 418.60 L444.14 418.60 L444.39 418.60 L444.64 418.60 L444.89 418.60 L445.13 418.60 L445.38 418.60 L445.63 418.60 L445.88 418.60 L446.13 418.60 L446.37 418.60 L446.62 418.60 L446.87 418.60 L447.12 418.60 L447.37 418.60 L447.61 418.60 L447.86 418.60 L448.11 418.60 L448.36 418.60 L448.61 418.60 L448.85 418.60 L449.10 418.60 L449.35 418.60 L449.60 418.60 L449.85 418.60 L450.09 418.60 L450.34 418.60 L450.59 418.60 L450.84 418.60 L451.09 418.60 L451.33 418.60 L451.58 418.60 L451.83 418.60 L452.08 418.60 L452.33 418.60 L452.57 418.60 L452.82 418.60 L453.07 418.60 L453.07 418.60Z" fill="#ececec" stroke="none"/>
<path d="M291.42 418.60 L291.83 418.60 L292.23 418.60 L292.64 418.60 L293.04 418.60 L293.45 418.60 L293.85 418.60 L294.25 418.60 L294.66 418.60 L295.06 418.60 L295.47 418.60 L295.87 418.60 L296.27 418.60 L296.68 418.60 L297.08 418.60 L297.49 418.60 L297.89 418.60 L298.30 418.60 L298.70 418.60 L299.10 418.60 L299.51 418.60 L299.91 418.60 L300.32 418.60 L300.72 418.60 L301.13 418.60 L301.53 418.60 L301.93 418.60 L302.34 418.60 L302.74 418.60 L303.15 418.60 L303.55 418.60 L303.96 418.60 L304.36 418.60 L304.76 418.60 L305.17 418.60 L305.57 418.60 L305.98 418.60 L306.38 418.60 L306.79 418.60 L307.19 418.60 L307.59 418.60 L308.00 418.60 L308.40 418.60 L308.81 418.60 L309.21 418.60 L309.61 418.60 L310.02 418.60 L310.42 418.60 L310.83 418.60 L311.23 418.60 L311.64 418.60 L312.04 418.60 L312.44 418.60 L312.85 418.60 L313.25 418.60 L313.66 418.60 L314.06 418.60 L314.47 418.60 L314.87 418.60 L315.27 418.60 L315.68 418.60 L316.08 418.60 L316.49 418.60 L316.89 418.60 L317.30 418.60 L317.70 418.60 L318.10 418.60 L318.51 418.60 L318.91 418.60 L319.32 418.60 L319.72 418.60 L320.13 418.60 L320.53 418.60 L320.93 418.60 L321.34 418.60 L321.74 418.60 L322.15 418.60 L322.55 418.60 L322.95 418.60 L323.36 418.60 L323.76 418.60 L324.17 418.60 L324.57 418.60 L324.98 418.60 L325.38 418.60 L325.78 418.60 L326.19 418.60 L326.59 418.60 L327.00 418.60 L327.40 418.60 L327.81 418.60 L328.21 418.60 L328.61 418.60 L329.02 418.60 L329.42 418.60 L329.83 418.60 L330.23 418.60 L330.64 418.60 L331.04 418.60 L331.44 418.60 L331.85 418.60 L332.25 418.60 L332.66 418.60 L333.06 418.60 L333.46 418.60 L333.87 418.60 L334.27 418.60 L334.68 418.60 L335.08 418.60 L335.49 418.60 L335.89 418.60 L336.29 418.60 L336.70 418.60 L337.10 418.60 L337.51 418.60 L337.91 418.59 L338.32 418.59 L338.72 418.59 L339.12 418.59 L339.53 418.58 L339.93 418.58 L340.34 418.57 L340.74 418.57 L341.15 418.56 L341.55 418.55 L341.95 418.53 L342.36 418.52 L342.76 418.50 L343.17 418.47 L343.57 418.44 L343.98 418.40 L344.38 418.36 L344.78 418.30 L345.19 418.23 L345.59 418.15 L346.00 418.06 L346.40 417.95 L346.80 417.81 L347.21 417.66 L347.61 417.47 L348.02 417.25 L348.42 417.00 L348.83 416.71 L349.23 416.36 L349.63 415.97 L350.04 415.52 L350.44 415.00 L350.85 414.41 L351.25 413.73 L351.66 412.97 L352.06 412.11 L352.46 411.15 L352.87 410.07 L353.27 408.87 L353.68 407.53 L354.08 406.06 L354.49 404.43 L354.89 402.65 L355.29 400.71 L355.70 398.60 L356.10 396.32 L356.51 393.86 L356.91 391.22 L357.32 388.40 L357.72 385.40 L358.12 382.23 L358.53 378.90 L358.93 375.40 L359.34 371.75 L359.74 367.97 L360.14 364.07 L360.55 360.06 L360.95 355.98 L361.36 351.83 L361.76 347.65 L362.17 343.47 L362.57 339.31 L362.97 335.20 L363.38 331.17 L363.78 327.26 L364.19 323.50 L364.59 319.92 L365.00 316.54 L365.40 313.42 L365.80 310.56 L366.21 308.00 L366.61 305.76 L367.02 303.87 L367.42 302.33 L367.83 301.18 L368.23 300.42 L368.63 300.05 L369.04 300.09 L369.44 300.53 L369.85 301.36 L370.25 302.58 L370.66 304.18 L371.06 306.13 L371.46 308.43 L371.87 311.05 L372.27 313.95 L372.68 317.13 L373.08 320.54 L373.48 324.16 L373.89 327.95 L374.29 331.88 L374.70 335.92 L375.10 340.04 L375.51 344.21 L375.91 348.40 L376.31 352.57 L376.72 356.71 L377.12 360.78 L377.53 364.77 L377.93 368.65 L378.34 372.41 L378.74 376.03 L379.14 379.50 L379.55 382.81 L379.95 385.95 L380.36 388.91 L380.76 391.70 L381.17 394.31 L381.57 396.74 L381.97 398.99 L382.38 401.07 L382.78 402.98 L383.19 404.73 L383.59 406.33 L383.99 407.78 L384.40 409.09 L384.80 410.27 L385.21 411.33 L385.61 412.27 L386.02 413.11 L386.42 413.86 L386.82 414.52 L387.23 415.10 L387.63 415.60 L388.04 416.04 L388.44 416.43 L388.85 416.76 L389.25 417.05 L389.65 417.30 L390.06 417.51 L390.46 417.69 L390.87 417.84 L391.27 417.97 L391.68 418.08 L392.08 418.17 L392.48 418.25 L392.89 418.31 L393.29 418.36 L393.70 418.41 L394.10 418.44 L394.51 418.47 L394.91 418.50 L395.31 418.52 L395.72 418.54 L396.12 418.55 L396.53 418.56 L396.93 418.57 L397.33 418.57 L397.74 418.58 L398.14 418.58 L398.55 418.59 L398.95 418.59 L399.36 418.59 L399.76 418.59 L400.16 418.60 L400.57 418.60 L400.97 418.60 L401.38 418.60 L401.78 418.60 L402.19 418.60 L402.59 418.60 L402.99 418.60 L403.40 418.60 L403.80 418.60 L404.21 418.60 L404.61 418.60 L405.02 418.60 L405.42 418.60 L405.82 418.60 L406.23 418.60 L406.63 418.60 L407.04 418.60 L407.44 418.60 L407.85 418.60 L408.25 418.60 L408.65 418.60 L409.06 418.60 L409.46 418.60 L409.87 418.60 L410.27 418.60 L410.67 418.60 L411.08 418.60 L411.48 418.60 L411.89 418.60 L412.29 418.60 L412.70 418.60 L413.10 418.60 L413.50 418.60 L413.91 418.60 L414.31 418.60 L414.72 418.60 L415.12 418.60 L415.53 418.60 L415.93 418.60 L416.33 418.60 L416.74 418.60 L417.14 418.60 L417.55 418.60 L417.95 418.60 L418.36 418.60 L418.76 418.60 L419.16 418.60 L419.57 418.60 L419.97 418.60 L420.38 418.60 L420.78 418.60 L421.19 418.60 L421.59 418.60 L421.99 418.60 L422.40 418.60 L422.80 418.60 L423.21 418.60 L423.61 418.60 L424.01 418.60 L424.42 418.60 L424.82 418.60 L425.23 418.60 L425.63 418.60 L426.04 418.60 L426.44 418.60 L426.84 418.60 L427.25 418.60 L427.65 418.60 L428.06 418.60 L428.46 418.60 L428.87 418.60 L429.27 418.60 L429.67 418.60 L430.08 418.60 L430.48 418.60 L430.89 418.60 L431.29 418.60 L431.70 418.60 L432.10 418.60 L432.50 418.60 L432.91 418.60 L433.31 418.60 L433.72 418.60 L434.12 418.60 L434.52 418.60 L434.93 418.60 L435.33 418.60 L435.74 418.60 L436.14 418.60 L436.55 418.60 L436.95 418.60 L437.35 418.60 L437.76 418.60 L438.16 418.60 L438.57 418.60 L438.97 418.60 L439.38 418.60 L439.78 418.60 L440.18 418.60 L440.59 418.60 L440.99 418.60 L441.40 418.60 L441.80 418.60 L442.21 418.60 L442.61 418.60 L443.01 418.60 L443.42 418.60 L443.82 418.60 L444.23 418.60 L444.63 418.60 L445.04 418.60 L445.44 418.60 L445.84 418.60 L446.25 418.60 L446.65 418.60 L447.06 418.60 L447.46 418.60 L447.86 418.60 L448.27 418.60 L448.67 418.60 L449.08 418.60 L449.48 418.60 L449.89 418.60 L450.29 418.60 L450.69 418.60 L451.10 418.60 L451.50 418.60 L451.91 418.60 L452.31 418.60 L452.72 418.60 L453.12 418.60" fill="none" stroke="#333" stroke-width="1.3"/>
<rect x="278.8" y="295.4" width="185.8" height="127.6" fill="none" stroke="#6a6a6a" stroke-width="0.9"/>
<line x1="345.5" y1="295.4" x2="345.5" y2="423" stroke="#ff44ff" stroke-width="0.8" stroke-dasharray="1.6 1.6"/>
<text x="342.4" y="305.6" font-size="5.6" text-anchor="end" fill="#ff33ff" stroke="#ff33ff" stroke-width="0.18">0.0002441</text>
<text x="348.7" y="305.6" font-size="5.6" fill="#bbbbbb" stroke="#bbbbbb" stroke-width="0.18">0.9997559</text>
<line x1="275.5" y1="418.60" x2="278.8" y2="418.60" stroke="#777" stroke-width="0.7"/>
<text transform="translate(270.8 418.60) rotate(-90)" font-size="5.75" text-anchor="middle" fill="#333" stroke="#333" stroke-width="0.18">0.000</text>
<line x1="275.5" y1="394.40" x2="278.8" y2="394.40" stroke="#777" stroke-width="0.7"/>
<text transform="translate(270.8 394.40) rotate(-90)" font-size="5.75" text-anchor="middle" fill="#333" stroke="#333" stroke-width="0.18">0.002</text>
<line x1="275.5" y1="370.20" x2="278.8" y2="370.20" stroke="#777" stroke-width="0.7"/>
<text transform="translate(270.8 370.20) rotate(-90)" font-size="5.75" text-anchor="middle" fill="#333" stroke="#333" stroke-width="0.18">0.004</text>
<line x1="275.5" y1="346.00" x2="278.8" y2="346.00" stroke="#777" stroke-width="0.7"/>
<text transform="translate(270.8 346.00) rotate(-90)" font-size="5.75" text-anchor="middle" fill="#333" stroke="#333" stroke-width="0.18">0.006</text>
<line x1="275.5" y1="321.80" x2="278.8" y2="321.80" stroke="#777" stroke-width="0.7"/>
<text transform="translate(270.8 321.80) rotate(-90)" font-size="5.75" text-anchor="middle" fill="#333" stroke="#333" stroke-width="0.18">0.008</text>
<line x1="275.5" y1="297.60" x2="278.8" y2="297.60" stroke="#777" stroke-width="0.7"/>
<text transform="translate(270.8 297.60) rotate(-90)" font-size="5.75" text-anchor="middle" fill="#333" stroke="#333" stroke-width="0.18">0.010</text>
<text transform="translate(257.2 359.7) rotate(-90)" font-size="5.75" text-anchor="middle" fill="#333" stroke="#333" stroke-width="0.18">density</text>
<line x1="319.20" y1="423" x2="319.20" y2="426.3" stroke="#777" stroke-width="0.7"/>
<text x="319.20" y="435.4" font-size="5.75" text-anchor="middle" fill="#222" stroke="#222" stroke-width="0.18">-50</text>
<line x1="368.80" y1="423" x2="368.80" y2="426.3" stroke="#777" stroke-width="0.7"/>
<text x="368.80" y="435.4" font-size="5.75" text-anchor="middle" fill="#222" stroke="#222" stroke-width="0.18">0</text>
<line x1="418.40" y1="423" x2="418.40" y2="426.3" stroke="#777" stroke-width="0.7"/>
<text x="418.40" y="435.4" font-size="5.75" text-anchor="middle" fill="#222" stroke="#222" stroke-width="0.18">50</text>
<text x="372" y="449" font-size="5.75" text-anchor="middle" fill="#222" stroke="#222" stroke-width="0.18">valorate LR</text>
<text x="372" y="455.6" font-size="5.75" text-anchor="middle" fill="#222" stroke="#222" stroke-width="0.18">BRAF:600:06:ENST00000288602</text>
</svg>
</div></body></html>
